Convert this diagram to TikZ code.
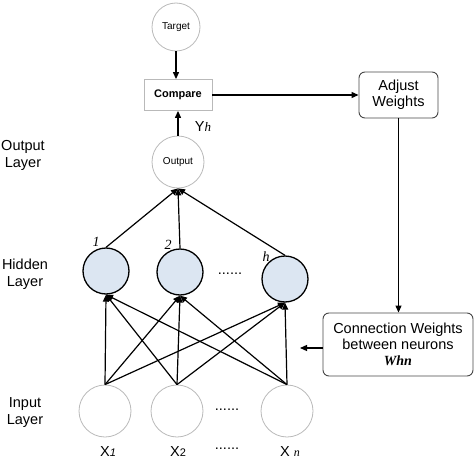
\documentclass[tikz,border=0pt]{standalone}
\usepackage{fontspec}
\setmainfont{Liberation Sans}
\newfontfamily\serifit{Liberation Serif}
\usetikzlibrary{arrows.meta}
\definecolor{hidfill}{RGB}{220,230,242}
\definecolor{lightgray}{RGB}{185,185,185}
\definecolor{boxgray}{RGB}{70,70,70}
\tikzset{
  grayneuron/.style={circle, draw=lightgray, line width=0.8pt, minimum size=#1, inner sep=0pt, font=\fontsize{10}{12}\selectfont},
  hidneuron/.style={circle, draw=black, fill=hidfill, line width=1.3pt, minimum size=46pt, inner sep=0pt},
  roundbox/.style={draw=boxgray, rounded corners=6pt, line width=0.9pt, align=center, font=\fontsize{14.5}{16}\selectfont, inner sep=0pt},
  layerlabel/.style={align=center, font=\fontsize{14.5}{17}\selectfont},
  conn/.style={line width=1.2pt, -{Triangle[length=7pt,width=6pt]}},
  plainline/.style={line width=1.2pt},
  dots/.style={font=\fontsize{14.5}{16}\selectfont},
  idx/.style={font=\fontsize{14}{16}\selectfont\serifit\itshape}
}
\begin{document}
\begin{tikzpicture}[x=1pt,y=-1pt]
\useasboundingbox (0,0) rectangle (474,463);
% top part
\node[grayneuron=48pt] (target) at (176,27) {Target};
\node[draw=lightgray, line width=0.8pt, minimum width=68pt, minimum height=31pt, inner sep=0pt, font=\fontsize{11}{13}\selectfont\bfseries] (compare) at (178,95) {Compare};
\node[grayneuron=52pt] (output) at (178,162) {Output};
\node[roundbox, minimum width=79pt, minimum height=46pt] (adjust) at (398.5,95) {Adjust\\Weights};
\node[roundbox, minimum width=150pt, minimum height=63pt] (cw) at (398,344.5) {Connection Weights\\between neurons\\{\fontsize{14}{16}\selectfont\serifit\bfseries\itshape Whn}};
% hidden
\node[hidneuron] (h1) at (106,271) {};
\node[hidneuron] (h2) at (180,272) {};
\node[hidneuron] (hh) at (285,279) {};
% inputs
\node[grayneuron=52pt] (x1) at (105,411) {};
\node[grayneuron=52pt] (x2) at (177,411) {};
\node[grayneuron=52pt] (xn) at (287,411) {};
% labels
\node[layerlabel] (lo) at (23,155) {Output\\Layer};
\node[layerlabel] (lh) at (25,274) {Hidden\\Layer};
\node[layerlabel] (li) at (25,413) {Input\\Layer};
\node[idx] (n1) at (96,242) {1};
\node[idx] (n2) at (168,245) {2};
\node[idx] (nh) at (266,257) {h};
\node[dots] (d1) at (230,274) {......};
\node[dots] (d2) at (227,410) {......};
\node[dots] (d3) at (227,449) {......};
\node[font=\fontsize{14.5}{16}\selectfont] (lx1) at (108,452) {X{\fontsize{11}{12}\selectfont\itshape 1}};
\node[font=\fontsize{14.5}{16}\selectfont] (lx2) at (178,452) {X{\fontsize{11}{12}\selectfont 2}};
\node[font=\fontsize{14.5}{16}\selectfont] (lxn) at (290,452) {X {\fontsize{12}{12}\selectfont\serifit\itshape n}};
\node[font=\fontsize{14.5}{16}\selectfont] (ly) at (203,127) {Y{\fontsize{13}{14}\selectfont\serifit\itshape h}};
% connectors top
\draw[conn] (target.south) -- (target.south |- compare.north);
\draw[conn] (output.north) -- (compare.south);
\draw[conn] (compare.east) -- (adjust.west);
\draw[conn] (adjust.south) -- (adjust.south |- cw.north);
\coordinate (fb) at (300,348);
\draw[conn] (cw.west |- fb) -- (fb);
% input to hidden
\foreach \i in {x1,x2,xn}{
  \foreach \j in {h1,h2,hh}{
    \draw[conn] (\i.north) -- (\j.south);
  }
}
% hidden to output
\foreach \j in {h1,h2,hh}{
  \draw[conn] (\j.north) -- (output.south);
}
\end{tikzpicture}
\end{document}
